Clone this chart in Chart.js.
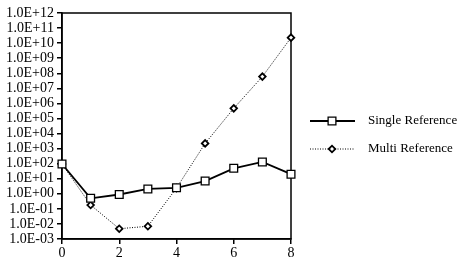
<!DOCTYPE html>
<html>
<head>
<meta charset="utf-8">
<script src="https://cdn.jsdelivr.net/npm/chart.js@4.4.1/dist/chart.umd.min.js"></script>
<style>
  html, body { margin: 0; padding: 0; background: #fff; }
  #wrap { width: 474px; height: 268px; }
</style>
</head>
<body>
<div id="wrap"><canvas id="c" width="474" height="268"></canvas></div>
<script>
// ---- data ----
const xValues = [0, 1, 2, 3, 4, 5, 6, 7, 8];
const singleReference = [95, 0.5, 0.9, 2.1, 2.5, 7, 49, 130, 20];
const multiReference = [95, 0.18, 0.0048, 0.007, 2.4, 2200, 4.7e5, 6e7, 2.3e10];
const yTickExponents = [-3, -2, -1, 0, 1, 2, 3, 4, 5, 6, 7, 8, 9, 10, 11, 12];
const xTickValues = [0, 2, 4, 6, 8];
const seriesNames = ['Single Reference', 'Multi Reference'];

const FONT = "'Liberation Serif', 'Times New Roman', serif";

function fmtSci(v) {
  const e = Math.round(Math.log10(v));
  const sign = e < 0 ? '-' : '+';
  const a = Math.abs(e);
  return '1.0E' + sign + (a < 10 ? '0' + a : '' + a);
}

const boxPlugin = {
  id: 'box',
  beforeDatasetsDraw(chart) {
    const a = chart.chartArea, ctx = chart.ctx;
    ctx.save();
    ctx.strokeStyle = '#000';
    ctx.lineWidth = 1.5;
    ctx.strokeRect(a.left, a.top, a.right - a.left, a.bottom - a.top);
    ctx.restore();
  }
};

const legendPlugin = {
  id: 'customLegend',
  afterDraw(chart) {
    const ctx = chart.ctx;
    const rows = [121, 149];
    chart.data.datasets.forEach((ds, i) => {
      const y = rows[i];
      ctx.save();
      ctx.strokeStyle = ds.borderColor;
      ctx.lineWidth = ds.borderWidth;
      ctx.setLineDash(ds.borderDash || []);
      ctx.beginPath();
      ctx.moveTo(310, y);
      ctx.lineTo(355, y);
      ctx.stroke();
      ctx.setLineDash([]);
      ctx.fillStyle = ds.pointBackgroundColor;
      ctx.strokeStyle = ds.pointBorderColor;
      ctx.lineWidth = ds.pointBorderWidth;
      ctx.beginPath();
      if (ds.pointStyle === 'rect') {
        const s = Math.SQRT1_2 * ds.pointRadius;
        ctx.rect(332 - s, y - s, 2 * s, 2 * s);
      } else {
        const r = ds.pointRadius;
        ctx.moveTo(332 - r, y); ctx.lineTo(332, y - r); ctx.lineTo(332 + r, y); ctx.lineTo(332, y + r); ctx.closePath();
      }
      ctx.fill(); ctx.stroke();
      ctx.fillStyle = '#000';
      ctx.font = '13px ' + FONT;
      ctx.textBaseline = 'middle';
      ctx.textAlign = 'left';
      ctx.fillText(ds.label, 368, y);
      ctx.restore();
    });
  }
};

new Chart(document.getElementById('c'), {
  type: 'line',
  data: {
    datasets: [
      {
        label: seriesNames[0],
        data: xValues.map((x, i) => ({ x: x, y: singleReference[i] })),
        borderColor: '#000',
        borderWidth: 1.8,
        pointStyle: 'rect',
        pointRadius: 5.5,
        pointBorderWidth: 1.3,
        pointBackgroundColor: '#fff',
        pointBorderColor: '#000',
        tension: 0,
        clip: false,
        order: 1
      },
      {
        label: seriesNames[1],
        data: xValues.map((x, i) => ({ x: x, y: multiReference[i] })),
        borderColor: '#000',
        borderWidth: 1,
        borderDash: [1, 1.5],
        pointStyle: 'rectRot',
        pointRadius: 3.3,
        pointBorderWidth: 1.8,
        pointBackgroundColor: '#fff',
        pointBorderColor: '#000',
        tension: 0,
        clip: false,
        order: 2
      }
    ]
  },
  options: {
    responsive: false,
    animation: false,
    devicePixelRatio: 1,
    layout: { padding: { top: 13, right: 183, left: 0, bottom: 0 } },
    plugins: { legend: { display: false }, tooltip: { enabled: false } },
    scales: {
      x: {
        type: 'linear',
        min: 0, max: 8,
        afterBuildTicks(scale) { scale.ticks = xTickValues.map(v => ({ value: v })); },
        afterFit(scale) { scale.height = 29; },
        ticks: { color: '#000', font: { family: FONT, size: 14 }, padding: 1, maxRotation: 0 },
        grid: { drawOnChartArea: false, tickLength: 5, color: '#000', lineWidth: 1.5 },
        border: { display: true, color: '#000', width: 1.5 }
      },
      y: {
        type: 'logarithmic',
        min: 1e-3, max: 1e12,
        afterBuildTicks(scale) { scale.ticks = yTickExponents.map(e => ({ value: Math.pow(10, e) })); },
        afterFit(scale) { scale.width = 62; },
        ticks: {
          color: '#000', font: { family: FONT, size: 14 }, padding: 3, autoSkip: false,
          callback: (v) => fmtSci(v)
        },
        grid: { drawOnChartArea: false, tickLength: 5, color: '#000', lineWidth: 1.5 },
        border: { display: true, color: '#000', width: 1.5 }
      }
    }
  },
  plugins: [boxPlugin, legendPlugin]
});
</script>
</body>
</html>
